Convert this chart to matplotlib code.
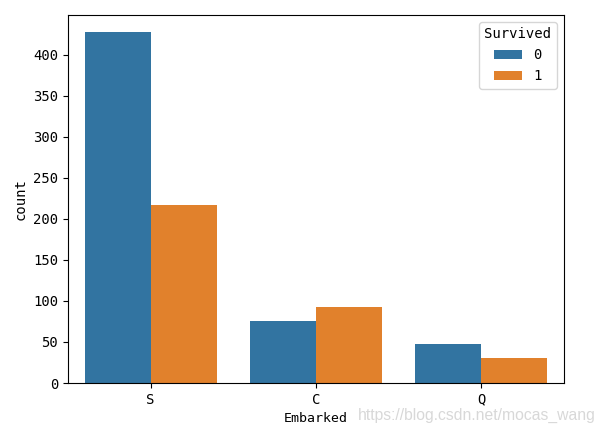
import pandas as pd
import seaborn as sns
import matplotlib.pyplot as plt

# counts
embarked = ['S', 'C', 'Q']
died = [427, 75, 47]
survived = [217, 93, 30]

df = pd.DataFrame({
    'Embarked': embarked * 2,
    'Survived': ['0'] * 3 + ['1'] * 3,
    'count': died + survived,
})

plt.rcParams['font.family'] = ['DejaVu Sans Mono']
plt.rcParams['font.size'] = 10

fig = plt.figure(figsize=(6.03, 4.34), dpi=100)
ax = fig.add_axes([0.1128, 0.1175, 0.8225, 0.848])
sns.barplot(data=df, x='Embarked', y='count', hue='Survived',
            palette=['#3274a1', '#e1812c'], saturation=1, ax=ax)
ax.legend(title='Survived', loc='upper right')
ax.set_xlabel('Embarked', fontsize=9.5)
ax.set_ylabel('count')

# csdn watermark
fig.text(0.594, 0.043, 'https://blog.csdn.net/mocas_wang', ha='left', va='center',
         color='#d8d8d8', fontsize=11.3, family='Liberation Sans')

plt.savefig('out.png', dpi=100)
